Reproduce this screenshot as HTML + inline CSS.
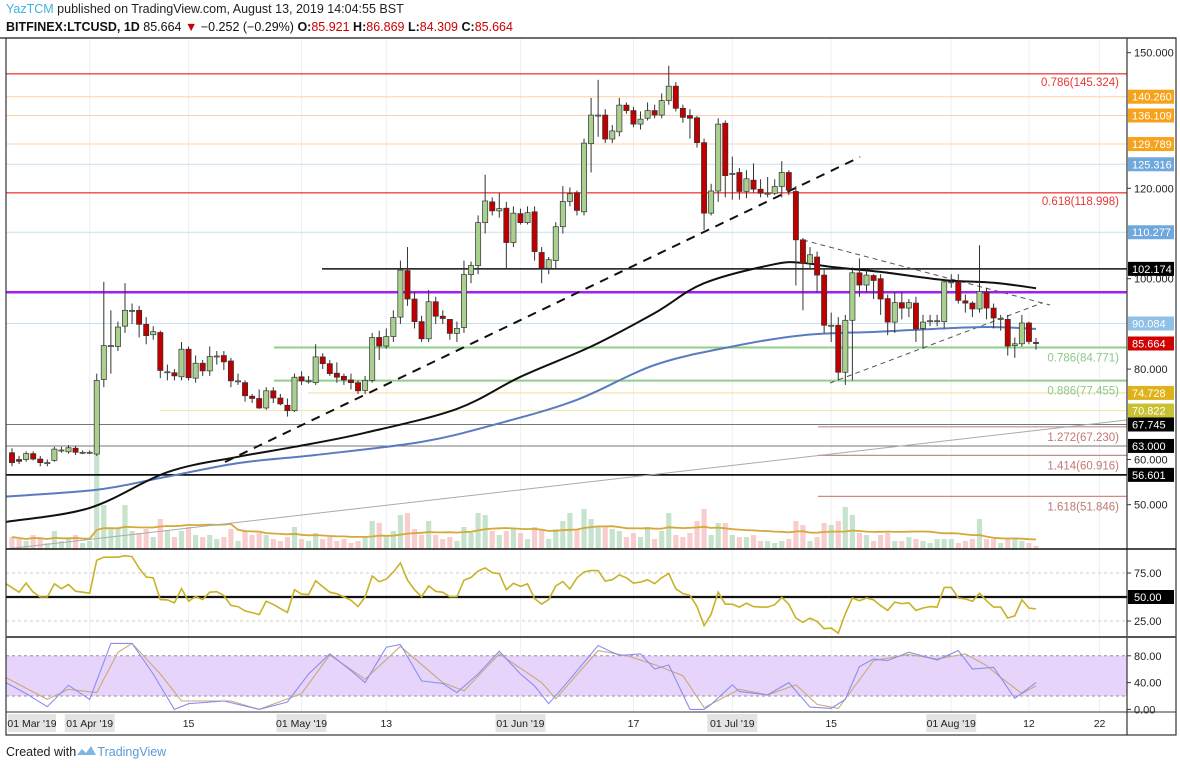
<!DOCTYPE html>
<html><head><meta charset="utf-8"><style>
html,body{margin:0;padding:0;background:#fff;width:1180px;height:768px;overflow:hidden}
svg text{font-family:"Liberation Sans",sans-serif}
</style></head><body>
<svg id="c" width="1180" height="768" viewBox="0 0 1180 768" xmlns="http://www.w3.org/2000/svg">
<text x="6" y="13" font-size="12.5" fill="#222"><tspan fill="#3bb3e4">YazTCM</tspan> published on TradingView.com, August 13, 2019 14:04:55 BST</text>
<text x="6" y="31" font-size="12.5" fill="#111"><tspan font-weight="bold">BITFINEX:LTCUSD, 1D</tspan> 85.664 <tspan fill="#c00">▼</tspan> −0.252 (−0.29%) <tspan font-weight="bold">O:</tspan><tspan fill="#c00">85.921</tspan> <tspan font-weight="bold">H:</tspan><tspan fill="#c00">86.869</tspan> <tspan font-weight="bold">L:</tspan><tspan fill="#c00">84.309</tspan> <tspan font-weight="bold">C:</tspan><tspan fill="#c00">85.664</tspan></text>
<g id="grid"></g><g id="vol"></g><g id="lines"></g><g id="ma"></g><g id="candles"></g><g id="ind"></g><g id="axes"></g>
<text x="6" y="756" font-size="12.5" fill="#222">Created with <tspan fill="#5b9bd5" dx="18">TradingView</tspan></text>
<path d="M77 755 l5 -6 l4 4 l5 -7 l5 9 z" fill="#7fb6e6"/>
</svg>
<script>
const O=[61.5,60,60,61.3,60.1,59.3,59.8,62.1,61.7,62.5,61.6,61.6,
61.2,77.7,85.2,85,89.5,93,93,89.9,87.6,88.1,79.4,79.2,78.3,84.4,78,81.3,79.6,82.9,83,81.8,77.4,77,74,73.5,71.4,75.2,73.6,72,70.8,
78.3,77.4,77,82.7,81.2,79.1,78.4,77.6,77,75.3,77.5,87,85.1,87.2,91.5,101.8,95.5,90.5,86.7,94.9,91.7,91,87.9,89.2,100.9,102.9,112.4,117,115,115.6,108,114.4,112.4,114.8,105.8,102.3,104,111.5,117.1,119,
114.8,129.9,136.2,136.2,130.9,132.5,138.4,137.2,134.2,135.5,137.2,136.2,139.4,142.6,137.7,136.1,135.6,130.1,114.5,119.4,134.4,123.3,123.5,119.3,121.8,119.8,118.9,118.9,120.4,123.5,119.3,
108.6,103.4,104.8,100.8,89.7,89.7,79.3,90.8,101.3,98.6,100.7,100,95.6,90.4,94.7,93.5,94.6,89,90.7,90.7,90.5,99.3,99.3,95.1,94.6,93.3,97,93.5,91.2,91,85.2,85.6,90.2,85.9];
const C=[59.3,59.6,61.3,60.1,59.3,59.3,62.3,62.1,62.6,61.6,61.6,61.6,
77.5,85.2,85.2,89.3,93,93,89.9,87.4,88.3,79.7,79.4,78.5,84.4,78.1,81.3,79.6,82.8,82.9,81.6,77.4,77.4,74.1,73.5,71.4,75.2,73.6,72.3,70.8,78.2,
77.4,77.4,82.7,81.2,79,78.2,77.6,77,75.2,77.5,87,85.1,87.2,91.4,101.9,95.5,90.5,86.7,94.9,91.7,91.2,87.9,89,100.9,102.9,112.4,117.2,115,115.5,108,114.5,112.4,114.6,106,102.3,104.2,111.5,117.1,118.8,115.1,
130,136.2,136.2,130.9,132.7,138.4,137.2,134.2,135.3,137.2,136.2,139.4,142.6,137.7,135.7,135.5,130.1,114.5,119.4,134.2,122.8,123.3,119.3,122.1,119.8,118.9,118.9,120.4,123.5,119.6,108.6,
103.4,105.3,100.8,89.7,89.7,79.3,90.8,101.3,98.6,100.8,99.6,95.5,90.4,94.7,93.5,94.7,88.9,90.4,90.7,90.7,99.3,99.3,95.2,94.6,93.3,97.2,93.5,91.3,91.2,85.1,85.6,90.2,86.1,85.66];
const H=[62.5,60.8,61.8,61.8,60.8,60,62.8,62.8,63.2,63,62,62,
79,99.3,93,90.5,99,94.5,94,91.5,89.5,88.5,81,80,86,85,83,82,85,84,84,82.5,79,77.5,74.5,75.5,76,76,74.5,73.5,79,
79.5,78.5,85.5,83.5,82,81.5,79,79,77.5,78.5,88,88.5,89,93,104,107,97,91.8,97.5,96,93,90,90.5,104,103.8,114,123,118,119,117,116,115.5,116,116,107,104.8,112.5,120.5,120.2,119.5,
131,140,144,137.5,134,140,139,138,137,139,138.5,141,147.1,143.5,138.5,137.5,136,131,121,135.5,135,127,124.5,124,125.5,122,122.5,122,126,124,120.5,
109,107,106,102,92.5,91.5,92,102.5,104.5,102,101,101,96.5,97,97,95.5,96,92,92,92,100,101,101,96.5,95,107.4,98,94.5,92,92,87,92,90.5,86.9];
const L=[58.5,59,59.5,59.8,58.5,58.5,59.5,61.5,61.3,61,61.2,61.2,
60.8,76,79,84,88,90,87,85.5,86.5,78,77.5,77.5,77.5,77.5,77,78.5,78.5,81,79.8,76,76.5,72.8,72.5,71.2,71,72.5,72,69.5,70.5,
76.5,76.8,76.5,80,78.5,77,76.5,75.5,74.5,74.5,77,82,84.5,86,90,94,89,86,86,90,90,86.5,86,88,99,101,110,114,113.5,102,107,112,112,104,99,101,102,110,116,114,
114,123.5,131.4,130,130,131.5,136.5,133.5,133,135,135.5,135.5,138.5,137,134.5,131,129,110.8,114,117,118,117.5,117.5,117.8,119,118,118,118.5,118,118.5,98.5,
93,102,97,88,86,77.5,76.5,77.5,96,97,95.5,92,87.5,88,91,91.5,86,84.5,89.5,89.5,89,98,94.5,92.5,91.5,92.5,91,89,88.5,83,82.5,85,85.5,84.3];
const VOL=[12,10,8,14,10,6,18,8,10,14,6,8,124,44,20,20,44,18,16,20,12,30,18,12,18,22,14,12,14,10,12,20,8,18,14,16,14,10,8,12,22,10,8,16,10,12,8,10,6,8,12,28,26,14,18,34,36,20,14,28,14,10,12,8,22,16,36,34,18,14,18,20,16,10,22,20,10,20,28,36,20,40,30,22,22,20,18,12,16,12,22,10,18,36,14,12,16,28,40,14,26,26,14,12,12,14,8,8,6,8,10,28,24,8,12,26,24,28,42,34,16,14,8,14,16,8,8,12,10,8,6,10,10,10,6,8,10,30,10,10,6,10,10,8,6,3];
const MA_A_IDX=[0,11,22,32,40,50,63,72,82,91,98,108,112,116,123,132,139,145];
const MA_A_VAL=[46.2,49.3,57.2,60.6,62.8,65.9,71.2,78.3,85,92.4,99,103.2,103.5,102.6,101.5,99.7,99.1,97.9];
const MA_B_IDX=[0,12,21,32,43,58,69,80,91,102,112,123,137,145];
const MA_B_VAL=[51.8,53.3,55.9,59.2,61,63.9,68,73.2,80.9,85,87.5,88.3,89.3,88.9];
const RSI=[63.8,55,64.5,55,50,50,63.8,58.6,63,56,55,54,88.2,91.5,91.5,91.5,93,92,80,70.8,70,47.3,47,43.9,58.6,45.6,50.5,47.3,55,55.5,51.5,41.2,40,35.5,33.8,31.7,45.6,42.3,37.9,33.9,57.6,53,52.5,66.9,60.8,55,53.3,50,46.6,40,50,71.9,65.9,68.5,75.9,85.5,67.6,57.6,50.3,61.6,55.9,54.9,50.3,50.3,67.6,70.3,77,80.3,75.3,74.3,57.6,64.3,61,63.6,48.3,42.6,47.3,61.6,66,58.3,70,76,77.5,77.5,66.6,68,73,70,64.5,65.5,68,64,70,74.5,58.5,53.5,51.8,40,20.2,32,55,42.5,42.5,39.5,43.5,40,39.5,39.5,42,49.6,42.5,28,23.6,28,24.6,17,17.6,12.3,32.5,49,46,49,47,41,36,44.7,43,44,36,38.5,40,39.5,60,60,49,48,45.5,54,46,39.5,39.5,28,30.4,47,38.5,37.5];
const K_IDX=[0,2,5,8,11,14,17,20,23,25,30,35,39,42,45,48,50,53,55,58,61,63,66,69,72,74,76,79,83,86,89,91,93,96,98,99,102,103,107,110,113,116,118,120,122,124,127,131,134,136,139,142,145];
const K_VAL=[40,23.6,4,36,15,98.5,98.5,52.8,0,8.5,12.5,0,11,52.8,82.8,57.8,40,92.8,96.8,42.5,38.6,25,52.8,86.8,52.8,35,8.5,45,95.3,80.3,82.8,60.3,66.3,0,0,7.5,36.6,26.6,21.6,40,3.5,1.5,15,63.8,75.3,72.8,85.3,73.8,87.8,60.3,62.8,16.5,40];
const D_IDX=[0,5,8,12,15,17,21,24,31,35,41,45,50,55,61,64,69,75,77,83,87,91,95,98,103,107,111,114,117,122,127,131,135,138,140,143,145];
const D_VAL=[47.5,15,30,25,85,98.5,52.8,12.5,12.5,0,23.6,81.3,45,94,40,27.6,82.8,40,16,87.8,80.3,66.8,50.3,2.5,30,21.6,36.6,7.5,1.5,72.8,81.8,75.3,82.8,65.3,47.8,23.6,35];
const PRICE_TICKS=[150,120,100,80,60,50];
const RSI_TICKS=[75,50,25];
const STOCH_TICKS=[80,40,0];
const DATE_IDX=[11,25,41,53,72,88,102,116,133,144,154];
const DATE_LBL=["01 Apr '19","15","01 May '19","13","01 Jun '19","17","01 Jul '19","15","01 Aug '19","12","22"];
const LEVELS=[145.324,140.26,136.109,129.789,125.316,118.998,110.277,102.174,97,90.084,84.771,77.455,74.728,70.822,67.745,67.23,63,60.916,56.601,51.846];

const NS="http://www.w3.org/2000/svg";
const xAt=i=>12+i*7.062;
const py=p=>52.7+(150-p)*4.52;
const ry=v=>597-(v-50)*0.96;
const sy=v=>709.4-v*0.67;
const vy=v=>549-v;
function mk(tag,attrs,parent,txt){const e=document.createElementNS(NS,tag);for(const k in attrs)e.setAttribute(k,attrs[k]);if(txt!==undefined)e.textContent=txt;document.getElementById(parent).appendChild(e);return e;}
const R=1127, LEFT=6;

let e;
e=mk('line',{x1:0,y1:38,x2:1176,y2:38,stroke:'#222','stroke-width':1.2},'axes');


e=mk('rect',{x:LEFT,y:38,width:1170,height:697,fill:'none',stroke:'#333','stroke-width':1.2},'axes');


e=mk('line',{x1:R,y1:38,x2:R,y2:735,stroke:'#333','stroke-width':1.2},'axes');


e=mk('line',{x1:LEFT,y1:549,x2:1176,y2:549,stroke:'#111','stroke-width':1.5},'axes');


e=mk('line',{x1:LEFT,y1:637,x2:1176,y2:637,stroke:'#555','stroke-width':2},'axes');


e=mk('line',{x1:LEFT,y1:712,x2:1176,y2:712,stroke:'#333','stroke-width':1},'axes');



DATE_IDX.forEach((d,k)=>{
  e=mk('line',{x1:xAt(d),y1:38,x2:xAt(d),y2:712,stroke:'#eef0f3','stroke-width':1},'grid');
  
  
});

const lvlStyle=[
 ['#ef4444',1.3,LEFT],['#ffd0a8',1,LEFT],['#ffd0a8',1,LEFT],['#ffd0a8',1,LEFT],['#c8dff0',1,LEFT],
 ['#ef4444',1.3,LEFT],['#c8dff0',1,LEFT],['#111',1.5,322],['#a020f0',2.4,LEFT],['#c8dff0',1,LEFT],
 ['#8fcf8a',2,274],['#8fcf8a',2,274],['#f2e2a0',1.2,308],['#f2e8b0',1.2,160],['#777',1,LEFT],
 ['#c0908a',1.2,818],['#777',1,LEFT],['#c0908a',1.2,818],['#111',1.8,LEFT],['#d08a80',1.2,818]];
LEVELS.forEach((p,k)=>{
  const s=lvlStyle[k];
  e=mk('line',{x1:s[2],y1:py(p),x2:R,y2:py(p),stroke:s[0],'stroke-width':s[1]},'lines');
  
  
});
e=mk('line',{x1:LEFT,y1:549,x2:R,y2:420,stroke:'#aaa','stroke-width':1},'lines');


e=mk('line',{x1:225,y1:462,x2:860,y2:157,stroke:'#111','stroke-width':2,'stroke-dasharray':'9 7'},'lines');


e=mk('line',{x1:803,y1:240,x2:1050,y2:305,stroke:'#555','stroke-width':1,'stroke-dasharray':'5 4'},'lines');


e=mk('line',{x1:830,y1:383,x2:1042,y2:303,stroke:'#555','stroke-width':1,'stroke-dasharray':'5 4'},'lines');



VOL.forEach((v,i)=>{
  e=mk('rect',{x:xAt(i)-2.6,y:vy(v),width:5.2,height:v,fill:C[i]>=O[i]?'#b9dcc0':'#f6c0c0',opacity:0.8},'vol');
  
  
});
let vpts=[];
VOL.forEach((v,i)=>{const a=Math.max(0,i-19);let s=0;for(let j=a;j<=i;j++)s+=VOL[j];const m=s/(i-a+1);vpts.push(xAt(i).toFixed(1)+','+vy(m).toFixed(1));});
e=mk('polyline',{points:vpts.join(' '),fill:'none',stroke:'#d4a93a','stroke-width':1.8},'vol');



function smoothPath(pts){
  let d='M'+pts[0][0].toFixed(1)+' '+pts[0][1].toFixed(1);
  for(let i=0;i<pts.length-1;i++){
    const p0=pts[Math.max(0,i-1)],p1=pts[i],p2=pts[i+1],p3=pts[Math.min(pts.length-1,i+2)];
    const c1x=p1[0]+(p2[0]-p0[0])/6,c1y=p1[1]+(p2[1]-p0[1])/6;
    const c2x=p2[0]-(p3[0]-p1[0])/6,c2y=p2[1]-(p3[1]-p1[1])/6;
    d+=' C'+c1x.toFixed(1)+' '+c1y.toFixed(1)+' '+c2x.toFixed(1)+' '+c2y.toFixed(1)+' '+p2[0].toFixed(1)+' '+p2[1].toFixed(1);
  }
  return d;
}
function maLine(idx,val,color){
  const pts=idx.map((d,k)=>[d===0?LEFT:xAt(d),py(val[k])]);
  return mk('path',{d:smoothPath(pts),fill:'none',stroke:color,'stroke-width':2,'stroke-linejoin':'round'},'ma');
}
e=maLine(MA_B_IDX,MA_B_VAL,'#5a7bbf');


e=maLine(MA_A_IDX,MA_A_VAL,'#111');



O.forEach((o,i)=>{
  const c=C[i],x=xAt(i),up=c>=o;
  e=mk('line',{x1:x,y1:py(H[i]),x2:x,y2:py(L[i]),stroke:'#333','stroke-width':1},'candles');
  
  
  const t=py(Math.max(o,c)),b=py(Math.min(o,c));
  e=mk('rect',{x:x-2.6,y:t,width:5.2,height:Math.max(1,b-t),fill:up?'#a9d08e':'#c00000',stroke:'#333','stroke-width':0.7},'candles');
  
  
});

[75,25].forEach(v=>{e=mk('line',{x1:LEFT,y1:ry(v),x2:R,y2:ry(v),stroke:'#ccc','stroke-dasharray':'3 3'},'ind');

});
e=mk('line',{x1:LEFT,y1:ry(50),x2:R,y2:ry(50),stroke:'#111','stroke-width':2.2},'ind');


e=mk('polyline',{points:RSI.map((v,i)=>(i===0?LEFT:xAt(i)).toFixed(1)+','+ry(v).toFixed(1)).join(' '),fill:'none',stroke:'#c8b326','stroke-width':1.6},'ind');



e=mk('rect',{x:LEFT,y:sy(80),width:R-LEFT,height:sy(20)-sy(80),fill:'#e6d4fa'},'ind');


[80,20].forEach(v=>{e=mk('line',{x1:LEFT,y1:sy(v),x2:R,y2:sy(v),stroke:'#9a8aa8','stroke-dasharray':'3 3'},'ind');

});
e=mk('polyline',{points:D_IDX.map((d,k)=>(d===0?LEFT:xAt(d)).toFixed(1)+','+sy(D_VAL[k]).toFixed(1)).join(' '),fill:'none',stroke:'#c9a97a','stroke-width':1.1},'ind');


e=mk('polyline',{points:K_IDX.map((d,k)=>(d===0?LEFT:xAt(d)).toFixed(1)+','+sy(K_VAL[k]).toFixed(1)).join(' '),fill:'none',stroke:'#8a8ef0','stroke-width':1.1},'ind');



function tick(y,txt,name){
  e=mk('line',{x1:R,y1:y,x2:R+4,y2:y,stroke:'#333'},'axes');
  
  
  e=mk('text',{x:R+7,y:y+4,'font-size':11,fill:'#222'},'axes',txt);
  
  
}
PRICE_TICKS.forEach(p=>tick(py(p),p.toFixed(3),'price-tick-label'));
RSI_TICKS.forEach(v=>tick(ry(v),v.toFixed(2),'rsi-tick-label'));
STOCH_TICKS.forEach(v=>tick(sy(v),v.toFixed(2),'stoch-tick-label'));

const BADGES=[[140.26,'#f7a21b'],[136.109,'#f7a21b'],[129.789,'#f7a21b'],[125.316,'#6fa8dc'],[110.277,'#6fa8dc'],[102.174,'#000'],[90.084,'#8fc0e6'],[85.664,'#d00000'],[74.728,'#e0b21a'],[70.822,'#c9c032'],[67.745,'#000'],[63,'#000'],[56.601,'#000']];
BADGES.forEach(b=>{
  const y=py(b[0]);
  e=mk('rect',{x:R+1,y:y-7,width:46,height:14,fill:b[1]},'axes');
  
  
  e=mk('text',{x:R+5,y:y+4,'font-size':11,fill:'#fff'},'axes',b[0].toFixed(3));
  
  
});
e=mk('rect',{x:R+1,y:ry(50)-7,width:46,height:14,fill:'#000'},'axes');


e=mk('text',{x:R+7,y:ry(50)+4,'font-size':11,fill:'#fff'},'axes','50.00');



const FIB=[[145.324,'0.786(145.324)','#e53935',-1],[118.998,'0.618(118.998)','#e53935',-1],[84.771,'0.786(84.771)','#8cc98a',1],[77.455,'0.886(77.455)','#8cc98a',1],[67.23,'1.272(67.230)','#c07a72',1],[60.916,'1.414(60.916)','#c07a72',1],[51.846,'1.618(51.846)','#c07a72',1]];
FIB.forEach(f=>{
  e=mk('text',{x:1119,y:py(f[0])+(f[3]<0?12:14),'font-size':11.5,fill:f[2],'text-anchor':'end'},'lines',f[1]);
  
  
});

e=mk('rect',{x:8,y:714,width:48,height:18,fill:'#e3e3e3'},'axes');


e=mk('text',{x:32,y:727,'font-size':10.5,fill:'#222','text-anchor':'middle'},'axes',"01 Mar '19");


DATE_IDX.forEach((d,k)=>{
  const x=xAt(d),lbl=DATE_LBL[k];
  if(lbl.length>4){
    e=mk('rect',{x:x-25,y:714,width:50,height:18,fill:'#e3e3e3'},'axes');
    
    
  }
  e=mk('text',{x:x,y:727,'font-size':10.5,fill:'#222','text-anchor':'middle'},'axes',lbl);
  
  
});
</script>
</body></html>
